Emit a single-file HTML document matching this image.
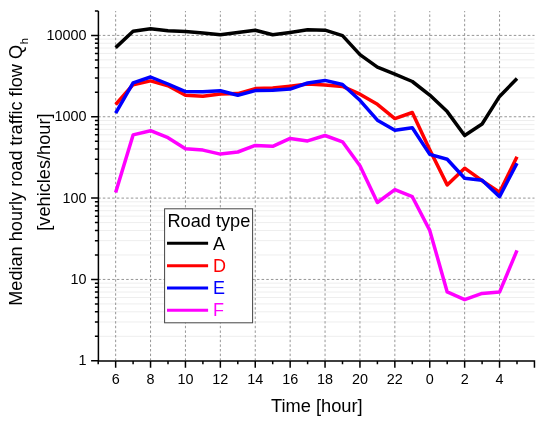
<!DOCTYPE html><html><head><meta charset="utf-8"><style>html,body{margin:0;padding:0;background:#fff;width:550px;height:424px;overflow:hidden}svg{display:block;filter:blur(0.35px)}text{font-family:"Liberation Sans",Arial,sans-serif}</style></head><body>
<svg width="550" height="424" viewBox="0 0 550 424">
<rect width="550" height="424" fill="#fff"/>
<path d="M99.2 336.31H534.5 M99.2 321.99H534.5 M99.2 311.82H534.5 M99.2 303.94H534.5 M99.2 297.50H534.5 M99.2 292.05H534.5 M99.2 287.33H534.5 M99.2 283.17H534.5 M99.2 254.96H534.5 M99.2 240.64H534.5 M99.2 230.47H534.5 M99.2 222.59H534.5 M99.2 216.15H534.5 M99.2 210.70H534.5 M99.2 205.98H534.5 M99.2 201.82H534.5 M99.2 173.61H534.5 M99.2 159.29H534.5 M99.2 149.12H534.5 M99.2 141.24H534.5 M99.2 134.80H534.5 M99.2 129.35H534.5 M99.2 124.63H534.5 M99.2 120.47H534.5 M99.2 92.26H534.5 M99.2 77.94H534.5 M99.2 67.77H534.5 M99.2 59.89H534.5 M99.2 53.45H534.5 M99.2 48.00H534.5 M99.2 43.28H534.5 M99.2 39.12H534.5" stroke="#eeeeee" stroke-width="1" fill="none"/>
<path d="M98.13 279.45H534.5 M98.13 198.10H534.5 M98.13 116.75H534.5 M98.13 35.40H534.5" stroke="#969696" stroke-width="1" stroke-dasharray="2.55 2.12" fill="none"/>
<path d="M115.65 11.0V360.0 M150.55 11.0V360.0 M185.45 11.0V360.0 M220.35 11.0V360.0 M255.25 11.0V360.0 M290.15 11.0V360.0 M325.05 11.0V360.0 M359.95 11.0V360.0 M394.85 11.0V360.0 M429.75 11.0V360.0 M464.65 11.0V360.0 M499.55 11.0V360.0" stroke="#969696" stroke-width="1" stroke-dasharray="2.45 2.196" stroke-dashoffset="1.146" fill="none"/>
<polyline points="115.65,47.60 133.10,31.20 150.55,28.80 168.00,30.70 185.45,31.50 202.90,33.00 220.35,34.70 237.80,32.60 255.25,30.20 272.70,34.70 290.15,32.40 307.60,29.80 325.05,30.20 342.50,35.60 359.95,54.60 377.40,67.20 394.85,74.20 412.30,81.50 429.75,95.10 447.20,111.60 464.65,135.50 482.10,124.00 499.55,96.40 517.00,78.60" fill="none" stroke="#000" stroke-width="3.5" stroke-linejoin="round" stroke-linecap="butt"/>
<polyline points="115.65,104.50 133.10,84.70 150.55,80.90 168.00,85.70 185.45,95.20 202.90,96.30 220.35,93.90 237.80,93.60 255.25,88.60 272.70,88.10 290.15,86.20 307.60,84.00 325.05,85.10 342.50,86.40 359.95,94.20 377.40,104.30 394.85,118.60 412.30,112.50 429.75,149.70 447.20,184.90 464.65,168.20 482.10,180.70 499.55,192.30 517.00,156.70" fill="none" stroke="#f00" stroke-width="3.5" stroke-linejoin="round" stroke-linecap="butt"/>
<polyline points="115.65,113.10 133.10,82.90 150.55,77.00 168.00,84.00 185.45,91.60 202.90,91.80 220.35,90.70 237.80,95.30 255.25,90.60 272.70,90.30 290.15,89.10 307.60,83.00 325.05,80.40 342.50,84.50 359.95,100.30 377.40,120.20 394.85,130.20 412.30,127.80 429.75,154.40 447.20,159.20 464.65,178.30 482.10,180.30 499.55,196.60 517.00,163.20" fill="none" stroke="#00f" stroke-width="3.5" stroke-linejoin="round" stroke-linecap="butt"/>
<polyline points="115.65,192.40 133.10,134.90 150.55,130.70 168.00,137.70 185.45,148.80 202.90,150.10 220.35,154.10 237.80,152.00 255.25,145.40 272.70,146.30 290.15,138.40 307.60,140.90 325.05,135.50 342.50,141.80 359.95,165.70 377.40,202.50 394.85,189.70 412.30,196.70 429.75,230.40 447.20,291.90 464.65,299.70 482.10,293.40 499.55,292.10 517.00,250.40" fill="none" stroke="#f0f" stroke-width="3.5" stroke-linejoin="round" stroke-linecap="butt"/>
<path d="M98.40 11.0V361.55 M97.65 360.90H535.20 M91.10 360.80H98.4 M94.90 336.31H98.4 M94.90 321.99H98.4 M94.90 311.82H98.4 M94.90 303.94H98.4 M94.90 297.50H98.4 M94.90 292.05H98.4 M94.90 287.33H98.4 M94.90 283.17H98.4 M91.10 279.45H98.4 M94.90 254.96H98.4 M94.90 240.64H98.4 M94.90 230.47H98.4 M94.90 222.59H98.4 M94.90 216.15H98.4 M94.90 210.70H98.4 M94.90 205.98H98.4 M94.90 201.82H98.4 M91.10 198.10H98.4 M94.90 173.61H98.4 M94.90 159.29H98.4 M94.90 149.12H98.4 M94.90 141.24H98.4 M94.90 134.80H98.4 M94.90 129.35H98.4 M94.90 124.63H98.4 M94.90 120.47H98.4 M91.10 116.75H98.4 M94.90 92.26H98.4 M94.90 77.94H98.4 M94.90 67.77H98.4 M94.90 59.89H98.4 M94.90 53.45H98.4 M94.90 48.00H98.4 M94.90 43.28H98.4 M94.90 39.12H98.4 M91.10 35.40H98.4 M94.90 10.91H98.4 M98.20 360.8V364.30 M115.65 360.8V367.80 M133.10 360.8V364.30 M150.55 360.8V367.80 M168.00 360.8V364.30 M185.45 360.8V367.80 M202.90 360.8V364.30 M220.35 360.8V367.80 M237.80 360.8V364.30 M255.25 360.8V367.80 M272.70 360.8V364.30 M290.15 360.8V367.80 M307.60 360.8V364.30 M325.05 360.8V367.80 M342.50 360.8V364.30 M359.95 360.8V367.80 M377.40 360.8V364.30 M394.85 360.8V367.80 M412.30 360.8V364.30 M429.75 360.8V367.80 M447.20 360.8V364.30 M464.65 360.8V367.80 M482.10 360.8V364.30 M499.55 360.8V367.80 M517.00 360.8V364.30 M534.45 360.8V367.80" stroke="#000" stroke-width="1.5" fill="none"/>
<text x="86.6" y="365.40" font-size="14.4" text-anchor="end">1</text>
<text x="86.6" y="284.05" font-size="14.4" text-anchor="end">10</text>
<text x="86.6" y="202.70" font-size="14.4" text-anchor="end">100</text>
<text x="86.6" y="121.35" font-size="14.4" text-anchor="end">1000</text>
<text x="86.6" y="40.00" font-size="14.4" text-anchor="end">10000</text>
<text x="115.65" y="384" font-size="14.4" text-anchor="middle">6</text>
<text x="150.55" y="384" font-size="14.4" text-anchor="middle">8</text>
<text x="185.45" y="384" font-size="14.4" text-anchor="middle">10</text>
<text x="220.35" y="384" font-size="14.4" text-anchor="middle">12</text>
<text x="255.25" y="384" font-size="14.4" text-anchor="middle">14</text>
<text x="290.15" y="384" font-size="14.4" text-anchor="middle">16</text>
<text x="325.05" y="384" font-size="14.4" text-anchor="middle">18</text>
<text x="359.95" y="384" font-size="14.4" text-anchor="middle">20</text>
<text x="394.85" y="384" font-size="14.4" text-anchor="middle">22</text>
<text x="429.75" y="384" font-size="14.4" text-anchor="middle">0</text>
<text x="464.65" y="384" font-size="14.4" text-anchor="middle">2</text>
<text x="499.55" y="384" font-size="14.4" text-anchor="middle">4</text>
<text x="270.9" y="411.8" font-size="18.3">Time [hour]</text>
<text transform="translate(21.9 305.8) rotate(-90)" font-size="18.15">Median hourly road traffic flow Q</text>
<text transform="translate(27.7 44.3) rotate(-90)" font-size="11">h</text>
<text transform="translate(50.4 230.7) rotate(-90)" font-size="18.2">[vehicles/hour]</text>
<rect x="164.6" y="208.8" width="88" height="114.0" fill="#fff" stroke="#444" stroke-width="1"/>
<text x="167.4" y="226.5" font-size="18.2">Road type</text>
<path d="M167 243.30H208.1" stroke="#000" stroke-width="3"/>
<text x="213" y="249.50" font-size="18" fill="#000">A</text>
<path d="M167 265.63H208.1" stroke="#f00" stroke-width="3"/>
<text x="213" y="271.83" font-size="18" fill="#f00">D</text>
<path d="M167 287.96H208.1" stroke="#00f" stroke-width="3"/>
<text x="213" y="294.16" font-size="18" fill="#00f">E</text>
<path d="M167 310.29H208.1" stroke="#f0f" stroke-width="3"/>
<text x="213" y="316.49" font-size="18" fill="#f0f">F</text>
</svg></body></html>
